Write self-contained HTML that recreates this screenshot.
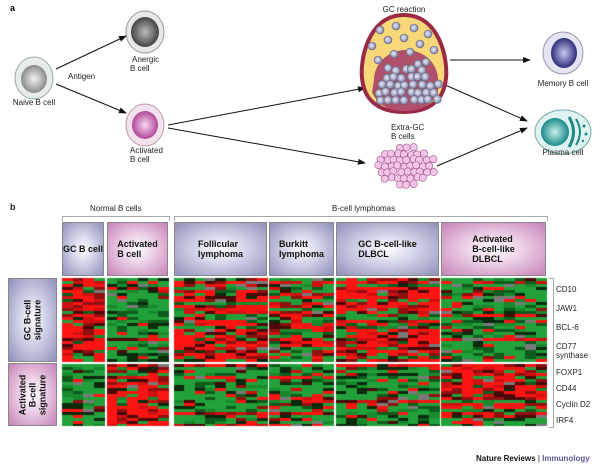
<!DOCTYPE html>
<html><head><meta charset="utf-8"><style>
html,body{margin:0;padding:0;background:#fff;width:600px;height:471px;overflow:hidden}
#w{position:relative;width:600px;height:471px;font-family:"Liberation Sans",sans-serif}
.t{position:absolute;font-size:8px;color:#222;white-space:nowrap;line-height:9px}
.h{position:absolute;display:flex;align-items:center;justify-content:center;font-weight:bold;font-size:9px;line-height:10px;color:#111;box-sizing:border-box;border:1px solid #888;text-align:left}
.bl{background:radial-gradient(ellipse at center,#fff 0%,#d9d9ec 35%,#8f90ba 100%)}
.pk{background:radial-gradient(ellipse at center,#fff 0%,#efd6ea 35%,#c682b6 100%)}
canvas{position:absolute;left:0;top:0}
</style></head><body><div id="w">
<svg width="600" height="200" style="position:absolute;left:0;top:0">
<defs>
<marker id="ar" markerWidth="8" markerHeight="6" refX="7" refY="3" orient="auto"><path d="M0,0 L8,3 L0,6z" fill="#111"/></marker>
<radialGradient id="gg" cx="50%" cy="50%" r="50%"><stop offset="0" stop-color="#f2f2f2"/><stop offset="1" stop-color="#8a8a8a"/></radialGradient>
<radialGradient id="gd" cx="50%" cy="50%" r="50%"><stop offset="0" stop-color="#bbb"/><stop offset="1" stop-color="#444"/></radialGradient>
<radialGradient id="gp" cx="50%" cy="50%" r="50%"><stop offset="0" stop-color="#f6d6ee"/><stop offset="1" stop-color="#b2479a"/></radialGradient>
<radialGradient id="gm" cx="50%" cy="50%" r="50%"><stop offset="0" stop-color="#c8c8f0"/><stop offset="1" stop-color="#2d2f7a"/></radialGradient>
<radialGradient id="gt" cx="50%" cy="50%" r="50%"><stop offset="0" stop-color="#c8f0ee"/><stop offset="1" stop-color="#1a8a88"/></radialGradient>
<radialGradient id="sc" cx="45%" cy="45%" r="55%"><stop offset="0" stop-color="#eeeef8"/><stop offset="1" stop-color="#7d7fa8"/></radialGradient>
</defs>
<text x="10" y="11" font-size="9" font-weight="bold" font-family="Liberation Sans">a</text>
<ellipse cx="34" cy="78" rx="19" ry="21" fill="#e6ece8" stroke="#9aa" stroke-width="1"/>
<ellipse cx="34" cy="79" rx="13" ry="14" fill="url(#gg)"/>
<text x="34" y="105" font-size="8" text-anchor="middle" font-family="Liberation Sans" fill="#222">Naive B cell</text>
<ellipse cx="145" cy="32" rx="19" ry="21" fill="#e8e8e8" stroke="#999"/>
<ellipse cx="145" cy="32" rx="14" ry="15" fill="url(#gd)"/>
<text x="132" y="62" font-size="8" font-family="Liberation Sans" fill="#222">Anergic</text>
<text x="130" y="71" font-size="8" font-family="Liberation Sans" fill="#222">B cell</text>
<ellipse cx="145" cy="125" rx="19" ry="21" fill="#f3e2ee" stroke="#b9a" />
<ellipse cx="145" cy="125" rx="13" ry="14" fill="url(#gp)"/>
<text x="130" y="153" font-size="8" font-family="Liberation Sans" fill="#222">Activated</text>
<text x="130" y="162" font-size="8" font-family="Liberation Sans" fill="#222">B cell</text>
<text x="68" y="79" font-size="8" font-family="Liberation Sans" fill="#222">Antigen</text>
<g stroke="#111" stroke-width="1" marker-end="url(#ar)">
<line x1="56" y1="69" x2="126" y2="36"/>
<line x1="56" y1="84" x2="126" y2="113"/>
<line x1="168" y1="125" x2="365" y2="88"/>
<line x1="168" y1="128" x2="365" y2="163"/>
<line x1="450" y1="60" x2="530" y2="60"/>
<line x1="443" y1="84" x2="527" y2="121"/>
<line x1="437" y1="166" x2="527" y2="128"/>
</g>
<text x="404" y="12" font-size="8" text-anchor="middle" font-family="Liberation Sans" fill="#222">GC reaction</text>
<path d="M404,15 C440,15 448,60 446,78 C444,100 430,112 404,112 C378,112 364,100 362,78 C360,60 368,15 404,15z" fill="#f8d878" stroke="#9a2a45" stroke-width="4"/>
<path d="M374,80 A32,30 0 0 1 438,80 L438,92 C432,106 420,111 404,111 C388,111 377,104 372,92z" fill="#b0506a"/>
<g id="gcs"></g>
<ellipse cx="563" cy="53" rx="20" ry="21" fill="#e4e4f2" stroke="#99a"/>
<ellipse cx="564" cy="53" rx="13" ry="15" fill="url(#gm)"/>
<text x="563" y="86" font-size="8" text-anchor="middle" font-family="Liberation Sans" fill="#222">Memory B cell</text>
<ellipse cx="563" cy="132" rx="28" ry="22" fill="#dff3f0" stroke="#7aa"/>
<circle cx="555" cy="132" r="14" fill="url(#gt)"/>
<path d="M569,117 Q578,132 569,147" stroke="#1a8a88" stroke-width="3" fill="none"/>
<path d="M576,119 Q584,132 576,145" stroke="#1a8a88" stroke-width="2" fill="none"/>
<circle cx="584" cy="126" r="1.5" fill="#1a8a88"/><circle cx="586" cy="134" r="1.5" fill="#1a8a88"/><circle cx="583" cy="141" r="1.2" fill="#1a8a88"/>
<text x="563" y="155" font-size="8" text-anchor="middle" font-family="Liberation Sans" fill="#222">Plasma cell</text>
<text x="391" y="130" font-size="8" font-family="Liberation Sans" fill="#222">Extra-GC</text>
<text x="391" y="139" font-size="8" font-family="Liberation Sans" fill="#222">B cells</text>
<g id="egc"></g>
</svg>
<div class="t" style="left:90px;top:204px">Normal B cells</div>
<div class="t" style="left:10px;top:203px;font-weight:bold;font-size:9px">b</div>
<div class="t" style="left:332px;top:204px">B-cell lymphomas</div>
<div style="position:absolute;left:62px;top:216px;width:106px;height:4px;border:1px solid #aaa;border-bottom:none"></div>
<div style="position:absolute;left:174px;top:216px;width:372px;height:4px;border:1px solid #aaa;border-bottom:none"></div>
<div class="h bl" style="left:62px;top:222px;width:42px;height:54px">GC B cell</div>
<div class="h pk" style="left:107px;top:222px;width:61px;height:54px">Activated<br>B cell</div>
<div class="h bl" style="left:174px;top:222px;width:93px;height:54px">Follicular<br>lymphoma</div>
<div class="h bl" style="left:269px;top:222px;width:65px;height:54px">Burkitt<br>lymphoma</div>
<div class="h bl" style="left:336px;top:222px;width:103px;height:54px">GC B-cell-like<br>DLBCL</div>
<div class="h pk" style="left:441px;top:222px;width:105px;height:54px">Activated<br>B-cell-like<br>DLBCL</div>
<div class="h bl" style="left:8px;top:278px;width:49px;height:84px"><div style="transform:rotate(-90deg);text-align:center;white-space:nowrap">GC B-cell<br>signature</div></div>
<div class="h pk" style="left:8px;top:363px;width:49px;height:63px"><div style="transform:rotate(-90deg);text-align:center;white-space:nowrap">Activated<br>B-cell<br>signature</div></div>
<canvas id="c" width="600" height="471"></canvas>
<div style="position:absolute;left:549px;top:278px;width:4px;height:148px;border:1px solid #aaa;border-left:none"></div>
<div class="t" style="left:556px;top:285px">CD10</div>
<div class="t" style="left:556px;top:304px">JAW1</div>
<div class="t" style="left:556px;top:323px">BCL-6</div>
<div class="t" style="left:556px;top:342px">CD77</div>
<div class="t" style="left:556px;top:351px">synthase</div>
<div class="t" style="left:556px;top:368px">FOXP1</div>
<div class="t" style="left:556px;top:384px">CD44</div>
<div class="t" style="left:556px;top:400px">Cyclin D2</div>
<div class="t" style="left:556px;top:416px">IRF4</div>
<div class="t" style="left:476px;top:454px;font-weight:bold;font-size:8px;color:#111">Nature Reviews <span style="font-weight:normal">|</span> <span style="color:#5a5a9a">Immunology</span></div>
</div>
<script>
(function(){
var s=12345;function r(){s=(s*16807)%2147483647;return s/2147483647;}
var ns="http://www.w3.org/2000/svg";
function cell(par,x,y,rr,f,st){var c=document.createElementNS(ns,'circle');c.setAttribute('cx',x.toFixed(1));c.setAttribute('cy',y.toFixed(1));c.setAttribute('r',rr);c.setAttribute('fill',f);c.setAttribute('stroke',st);c.setAttribute('stroke-width','0.6');par.appendChild(c);}
var g=document.getElementById('gcs');
var tp=[[380,30],[396,26],[414,28],[428,34],[372,46],[388,40],[404,38],[420,44],[434,50],[378,60],[394,54],[410,52],[426,62],[388,68],[418,64]];
tp.forEach(function(p){cell(g,p[0],p[1],4,'url(#sc)','#667');});
for(var y=70;y<=106;y+=7.5)for(var x=378;x<=436;x+=8){var dx=(x-406)/32,dy=(y-90)/22;if(dx*dx+dy*dy<1.05)cell(g,x+(r()-0.5)*3+(Math.round(y/7.5)%2)*3,y+(r()-0.5)*2,4.2,'url(#sc)','#667');}
var e=document.getElementById('egc');
for(var y=148;y<=184;y+=6)for(var x=378;x<=432;x+=6.5){var dx=(x-404)/28,dy=(y-166)/19;if(dx*dx+dy*dy<1.0)cell(e,x+(r()-0.5)*2+(Math.round(y/6)%2)*3,y+(r()-0.5)*2,3.6,'#f3c6e6','#a05090');}
var cv=document.getElementById('c').getContext('2d');
var cols=[[62,104],[107,168],[174,267],[269,334],[336,439],[441,546]];
var pTop=[0.93,0.08,0.8,0.55,0.8,0.1],pBot=[0.06,0.85,0.18,0.08,0.2,0.9];
var RED=['#ff1414','#ff1414','#ff1414','#ff1414','#d01010','#901010','#4a0808'];
var GRN=['#22a03a','#22a03a','#22a03a','#22a03a','#178a2c','#0d5c1d','#0a2a0e'];
function sect(y0,y1,pp){for(var k=0;k<6;k++){var x0=cols[k][0],x1=cols[k][1];var nc=Math.round((x1-x0)/10.5);var cw=(x1-x0)/nc;
for(var y=y0;y<y1;y+=3){var base=r()<pp[k];for(var c=0;c<nc;c++){var red=r()<0.85?base:!base;var col;
if(r()<0.035)col='#7a7a7a';else col=red?RED[Math.floor(r()*7)]:GRN[Math.floor(r()*7)];
cv.fillStyle=col;cv.fillRect(Math.round(x0+c*cw),y,Math.ceil(cw),Math.min(3,y1-y));}}}}
sect(278,362,pTop);sect(364,426,pBot);
})();
</script>
</body></html>
